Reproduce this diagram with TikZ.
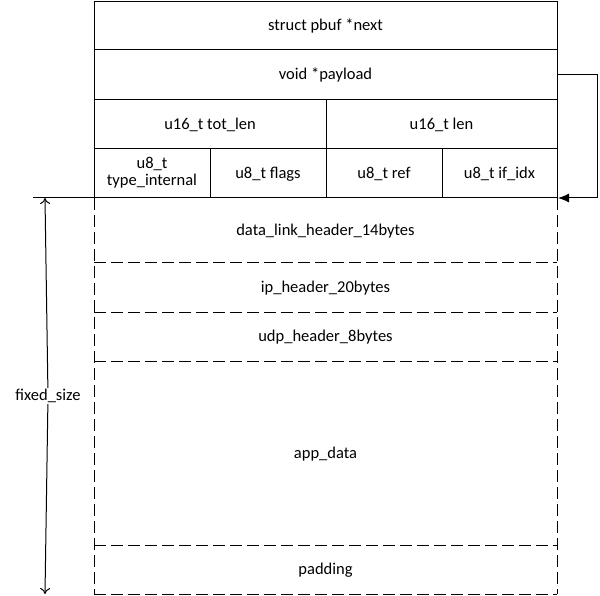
\documentclass[tikz,border=0pt]{standalone}
\usepackage{fontspec}
\setmainfont{Carlito}
\usetikzlibrary{arrows.meta}
\begin{document}
\begin{tikzpicture}[x=1pt,y=-1pt,font=\fontsize{16.5}{17}\selectfont,
  solidbox/.style={draw,line width=1pt},
  dashbox/.style={draw,line width=1pt,dash pattern=on 12pt off 5pt},
  lbl/.style={align=center,inner sep=0pt}]
\useasboundingbox (0,0) rectangle (600,596);
% solid top part
\draw[solidbox] (94,2) rectangle (557,198);
\draw[solidbox] (94,50) -- (557,50) (94,100) -- (557,100) (94,149) -- (557,149);
\draw[solidbox] (326,100) -- (326,198) (210,149) -- (210,198) (442,149) -- (442,198);
% dashed part
\draw[dashbox] (94,198) -- (94,594) (557,198) -- (557,594);
\draw[dashbox] (94,263) -- (557,263) (94,312) -- (557,312) (94,361) -- (557,361) (94,545) -- (557,545) (94,594) -- (557,594);
\node[lbl] (next) at (325.5,26) {struct pbuf *next};
\node[lbl] (payload) at (325.5,75) {void *payload};
\node[lbl] (tot) at (210,125) {u16\_t tot\_len};
\node[lbl] (len) at (441.5,125) {u16\_t len};
\node[lbl] (type) at (152,173) {u8\_t\\type\_internal};
\node[lbl] (flags) at (268,174) {u8\_t flags};
\node[lbl] (ref) at (384,174) {u8\_t ref};
\node[lbl] (ifidx) at (499.5,174) {u8\_t if\_idx};
\node[lbl] (dl) at (325.5,231) {data\_link\_header\_14bytes};
\node[lbl] (ip) at (325.5,288) {ip\_header\_20bytes};
\node[lbl] (udp) at (325.5,337) {udp\_header\_8bytes};
\node[lbl] (app) at (325.5,454) {app\_data};
\node[lbl] (pad) at (325.5,570) {padding};
% payload pointer
\coordinate (pr) at (557,75);
\coordinate (pc1) at (597,75);
\coordinate (pc2) at (597,198);
\coordinate (pt) at (558,198);
\draw[line width=1pt,-{Latex[length=11pt,width=9pt]}] (pr) -- (pc1) -- (pc2) -- (pt);
% left marker
\coordinate (lt) at (33,198);
\coordinate (lb) at (94,198);
\draw[line width=1pt] (lt) -- (lb);
\coordinate (a1) at (45,198);
\coordinate (a2) at (45,594);
\node[fill=white,inner sep=1pt] (fs) at (48,396) {fixed\_size};
\draw[line width=1pt,-{To[length=6pt,width=10pt]}] (fs) -- (a1);
\draw[line width=1pt,-{To[length=6pt,width=10pt]}] (fs) -- (a2);
\end{tikzpicture}
\end{document}
